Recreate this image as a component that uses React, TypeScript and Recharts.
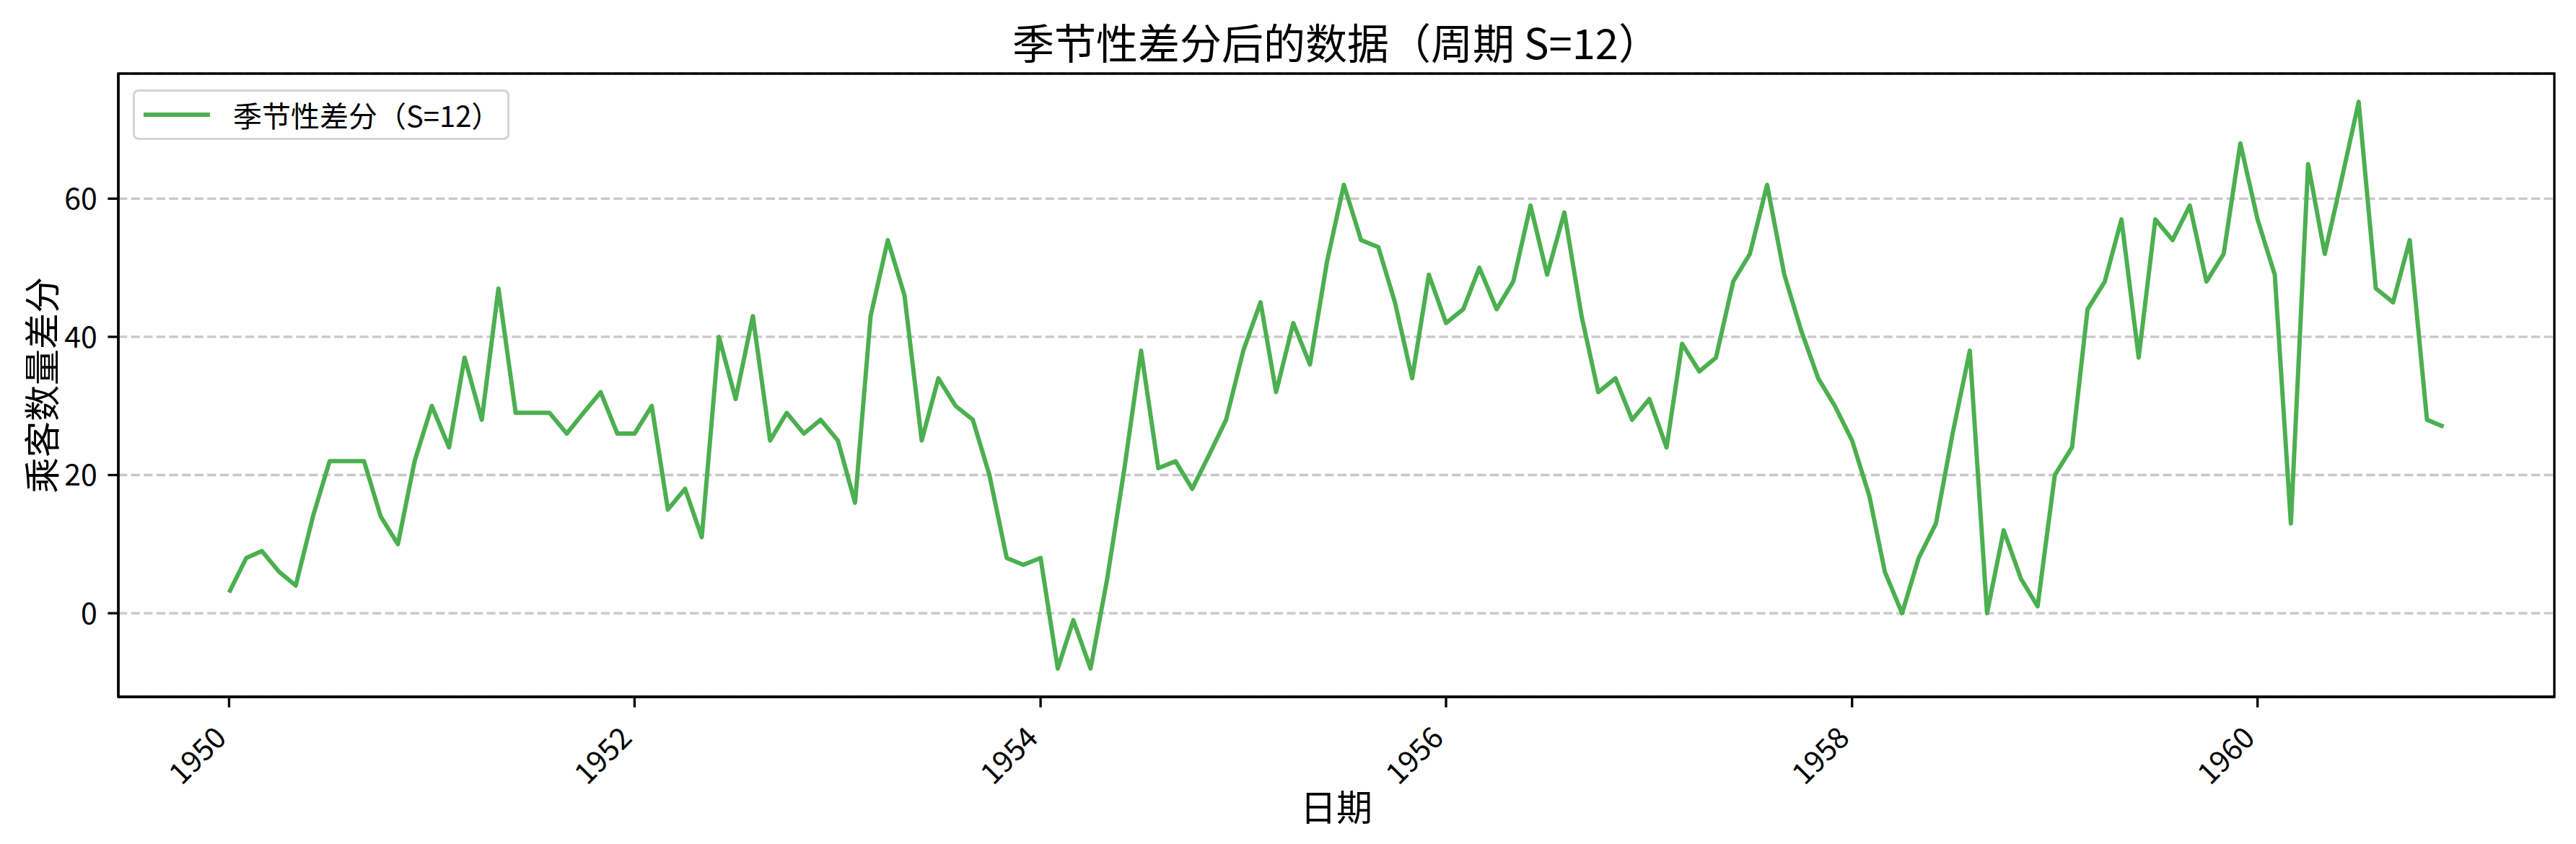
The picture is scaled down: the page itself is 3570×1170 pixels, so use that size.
import {
  LineChart,
  Line,
  XAxis,
  YAxis,
  CartesianGrid,
  Legend,
  ReferenceArea
} from "recharts"

// 季节性差分 (lag 12), monthly from 1950-01 to 1960-12
const startYear = 1950

const seasonalDiff = [
  3, 8, 9, 6, 4, 14, 22, 22, 22, 14, 10, 22, // 1950
  30, 24, 37, 28, 47, 29, 29, 29, 26, 29, 32, 26, // 1951
  26, 30, 15, 18, 11, 40, 31, 43, 25, 29, 26, 28, // 1952
  25, 16, 43, 54, 46, 25, 34, 30, 28, 20, 8, 7, // 1953
  8, -8, -1, -8, 5, 21, 38, 21, 22, 18, 23, 28, // 1954
  38, 45, 32, 42, 36, 51, 62, 54, 53, 45, 34, 49, // 1955
  42, 44, 50, 44, 48, 59, 49, 58, 43, 32, 34, 28, // 1956
  31, 24, 39, 35, 37, 48, 52, 62, 49, 41, 34, 30, // 1957
  25, 17, 6, 0, 8, 13, 26, 38, 0, 12, 5, 1, // 1958
  20, 24, 44, 48, 57, 37, 57, 54, 59, 48, 52, 68, // 1959
  57, 49, 13, 65, 52, 63, 74, 47, 45, 54, 28, 27 // 1960
]

const xTickYears = [1950, 1952, 1954, 1956, 1958, 1960]
const yTicks = [0, 20, 40, 60]

const seriesName = "季节性差分（S=12）"
const title = "季节性差分后的数据（周期 S=12）"
const xLabel = "日期"
const yLabel = "乘客数量差分"

const data = seasonalDiff.map((v, i) => ({
  t: Date.UTC(startYear + Math.floor(i / 12), i % 12, 1),
  value: v
}))

const tMin = data[0].t
const tMax = data[data.length - 1].t
const xDomain = [tMin - (tMax - tMin) * 0.05, tMax + (tMax - tMin) * 0.05]
const vMin = Math.min(...seasonalDiff)
const vMax = Math.max(...seasonalDiff)
const yDomain = [vMin - (vMax - vMin) * 0.05, vMax + (vMax - vMin) * 0.05]
const xTicks = xTickYears.map((y) => Date.UTC(y, 0, 1))

const FONT = "'Noto Sans CJK SC', 'Noto Sans', sans-serif"
const GREEN = "#4CAF50"

function XTick(props: any) {
  const { x, y, payload } = props
  const year = new Date(payload.value).getUTCFullYear()
  const ax = x - 14
  const ay = y + 32
  return (
    <text
      x={ax}
      y={ay}
      transform={`rotate(-45, ${ax}, ${ay})`}
      textAnchor="end"
      dominantBaseline="central"
      fontSize={41}
      fontFamily={FONT}
      fill="#000"
    >
      {year}
    </text>
  )
}

function LegendBox() {
  return (
    <div
      style={{
        width: 522,
        height: 70,
        border: "3px solid #d4d4d4",
        borderRadius: 8,
        background: "rgba(255,255,255,0.8)",
        display: "flex",
        alignItems: "center",
        boxSizing: "border-box",
        fontFamily: FONT
      }}
    >
      <div style={{ width: 92, height: 6, background: GREEN, marginLeft: 12 }} />
      <span style={{ fontSize: 40, marginLeft: 32, color: "#000", lineHeight: "40px" }}>
        {seriesName}
      </span>
    </div>
  )
}

export default function App() {
  return (
    <div style={{ position: "relative", width: 3570, height: 1170, background: "#fff" }}>
      <style>{"body{margin:0}"}</style>
      <div
        style={{
          position: "absolute",
          left: 164,
          width: 3376,
          top: 28,
          textAlign: "center",
          fontSize: 58,
          lineHeight: "58px",
          fontFamily: FONT,
          color: "#000"
        }}
      >
        {title}
      </div>
      <LineChart
        width={3570}
        height={1170}
        data={data}
        margin={{ top: 102, right: 30, bottom: 0, left: 0 }}
      >
        <CartesianGrid
          vertical={false}
          stroke="#c8c8c8"
          strokeWidth={3.3}
          strokeDasharray="12.3 5.3"
        />
        <XAxis
          dataKey="t"
          type="number"
          domain={xDomain}
          ticks={xTicks}
          height={204}
          tickSize={14.6}
          tickMargin={0}
          tick={<XTick />}
          tickLine={{ stroke: "#000", strokeWidth: 3.3 }}
          axisLine={{ stroke: "#000", strokeWidth: 3.3 }}
          allowDataOverflow
          label={{
            content: () => (
              <text
                x={1852}
                y={1116}
                textAnchor="middle"
                dominantBaseline="central"
                fontSize={50}
                fontFamily={FONT}
                fill="#000"
              >
                {xLabel}
              </text>
            )
          }}
        />
        <YAxis
          type="number"
          domain={yDomain}
          ticks={yTicks}
          width={164}
          tickSize={14.6}
          tickMargin={14.6}
          tick={{ fontSize: 41, fontFamily: FONT, fill: "#000" }}
          tickLine={{ stroke: "#000", strokeWidth: 3.3 }}
          axisLine={{ stroke: "#000", strokeWidth: 3.3 }}
          allowDataOverflow
          label={{
            content: () => (
              <text
                x={55}
                y={534}
                transform="rotate(-90, 55, 534)"
                textAnchor="middle"
                dominantBaseline="central"
                fontSize={50}
                fontFamily={FONT}
                fill="#000"
              >
                {yLabel}
              </text>
            )
          }}
        />
        <Line
          type="linear"
          dataKey="value"
          name={seriesName}
          stroke={GREEN}
          strokeWidth={6}
          strokeLinejoin="round"
          dot={false}
          isAnimationActive={false}
        />
        <ReferenceArea
          x1={xDomain[0]}
          x2={xDomain[1]}
          y1={yDomain[0]}
          y2={yDomain[1]}
          fill="none"
          stroke="#000"
          strokeWidth={3.3}
          ifOverflow="visible"
        />
        <Legend
          layout="vertical"
          align="center"
          verticalAlign="middle"
          wrapperStyle={{ left: 184, top: 124, width: 522 }}
          content={() => <LegendBox />}
        />
      </LineChart>
    </div>
  )
}
